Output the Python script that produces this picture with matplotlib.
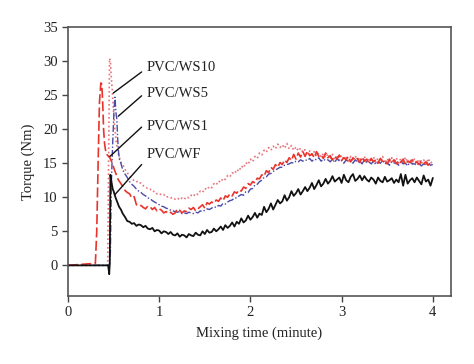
import numpy as np
import matplotlib
matplotlib.use("Agg")
import matplotlib.pyplot as plt

plt.rcParams['font.family'] = ['Liberation Serif', 'DejaVu Serif']

# ---------------- data ----------------
# common sampling grid for the later part of each run (minutes)
TIME_TAIL = np.round(np.arange(0.6, 4.0001, 0.025), 3)

# PVC/WF  (black, solid)
WF_HEAD_T = [0.0, 0.44, 0.452, 0.458, 0.465, 0.472, 0.48, 0.49, 0.50, 0.52, 0.54, 0.56, 0.58]
WF_HEAD_V = [0.0, 0.0, -1.3, 0.5, 13.3, 12.6, 12.0, 11.2, 10.9, 10.0, 9.3, 8.6, 8.2]
WF_TAIL = [
    7.6, 7.1, 6.5, 6.4, 6.1, 6.2, 5.8, 6.0, 5.9, 5.6,
    5.8, 5.4, 5.3, 5.5, 5.0, 5.2, 5.1, 4.7, 5.0, 4.9,
    4.6, 4.9, 4.5, 4.4, 4.7, 4.2, 4.5, 4.4, 4.1, 4.6,
    4.4, 4.3, 4.8, 4.5, 4.4, 5.0, 4.6, 5.2, 4.8, 4.9,
    5.4, 5.0, 5.3, 5.7, 5.2, 5.9, 5.5, 5.8, 6.3, 5.7,
    6.4, 6.1, 6.9, 6.3, 6.6, 7.3, 6.7, 7.1, 7.7, 7.0,
    7.6, 7.4, 8.6, 7.8, 8.3, 9.1, 8.2, 8.9, 9.6, 9.1,
    9.4, 10.3, 9.5, 10.0, 10.9, 10.2, 10.6, 11.2, 10.4, 10.9,
    11.5, 10.9, 11.4, 12.1, 11.2, 11.8, 12.5, 11.6, 12.0, 12.7,
    12.0, 12.4, 13.1, 12.3, 12.6, 12.9, 12.1, 13.3, 12.5, 12.2,
    13.0, 13.4, 12.4, 12.7, 13.2, 12.5, 13.1, 12.6, 12.3, 12.9,
    12.6, 12.0, 12.9, 12.4, 12.2, 13.0, 12.3, 12.5, 12.8, 12.1,
    12.6, 12.2, 13.4, 11.7, 13.3, 12.0, 12.5, 12.8, 12.2, 12.9,
    12.4, 11.9, 13.2, 12.3, 12.6, 11.7, 12.8,
]

# PVC/WS1  (red, dashed)
WS1_HEAD_T = [0.0, 0.30, 0.315, 0.33, 0.345, 0.36, 0.37, 0.38, 0.39, 0.40, 0.41, 0.42,
              0.43, 0.45, 0.47, 0.49, 0.51, 0.53, 0.55, 0.57]
WS1_HEAD_V = [0.0, 0.3, 5.0, 15.0, 24.0, 26.8, 26.6, 24.0, 20.0, 18.0, 17.0, 16.5,
              16.2, 16.0, 15.5, 14.8, 14.0, 13.3, 12.6, 12.2]
WS1_TAIL = [
    11.6, 11.0, 10.7, 10.5, 9.9, 10.1, 8.9, 8.7, 8.8, 8.5,
    8.3, 8.7, 8.6, 8.2, 8.5, 8.0, 8.3, 8.1, 7.7, 7.9,
    7.6, 7.8, 7.5, 7.7, 8.3, 8.1, 7.7, 8.0, 7.9, 8.4,
    8.2, 8.5, 8.0, 8.3, 8.6, 8.9, 8.4, 9.2, 9.0, 9.3,
    9.1, 9.6, 9.4, 9.9, 9.5, 10.2, 10.0, 10.5, 10.2, 10.8,
    10.6, 11.1, 10.9, 11.5, 11.3, 12.0, 11.8, 12.3, 12.1, 12.8,
    12.7, 13.3, 13.1, 13.9, 13.6, 14.4, 14.1, 14.8, 14.4, 15.1,
    14.8, 15.5, 15.1, 15.8, 15.4, 16.3, 15.6, 16.5, 15.9, 16.7,
    16.0, 16.8, 16.1, 16.4, 15.8, 16.7, 16.0, 16.2, 15.7, 16.5,
    15.8, 16.1, 15.5, 16.0, 15.6, 16.2, 15.4, 15.8, 15.5, 16.0,
    15.2, 15.8, 15.4, 15.7, 15.1, 15.9, 15.3, 15.6, 15.0, 15.7,
    15.2, 15.5, 15.0, 15.7, 15.3, 15.4, 14.9, 15.6, 15.1, 15.5,
    14.9, 15.4, 15.1, 15.6, 14.8, 15.3, 15.1, 15.5, 14.9, 15.2,
    14.8, 15.3, 14.9, 15.2, 14.7, 15.1, 15.0,
]

# PVC/WS5  (blue, dash-dot)
WS5_HEAD_T = [0.0, 0.455, 0.465, 0.475, 0.49, 0.505, 0.515, 0.525, 0.535, 0.545, 0.555, 0.565, 0.58]
WS5_HEAD_V = [0.0, 0.0, 2.0, 12.0, 18.0, 23.0, 24.7, 22.5, 21.5, 18.5, 16.5, 15.5, 15.0]
WS5_TAIL = [
    14.0, 13.4, 12.9, 12.3, 11.9, 11.6, 11.2, 10.9, 10.7, 10.4,
    10.2, 9.9, 9.8, 9.5, 9.3, 9.1, 8.9, 8.7, 8.6, 8.4,
    8.3, 8.1, 8.0, 7.9, 7.8, 7.9, 7.6, 7.7, 7.6, 7.8,
    7.7, 7.6, 7.8, 7.7, 8.0, 7.9, 8.1, 8.3, 8.2, 8.4,
    8.6, 8.5, 8.8, 8.7, 9.1, 9.0, 9.3, 9.5, 9.6, 9.9,
    9.9, 10.2, 10.4, 10.3, 10.8, 10.7, 11.2, 11.3, 11.8, 11.9,
    12.3, 12.5, 12.9, 13.0, 13.4, 13.5, 13.8, 14.0, 14.2, 14.4,
    14.4, 14.7, 14.8, 14.9, 15.1, 15.0, 15.3, 15.2, 15.5, 15.3,
    15.5, 15.4, 15.7, 15.3, 15.6, 15.5, 15.8, 15.3, 15.6, 15.4,
    15.5, 15.2, 15.6, 15.1, 15.7, 15.3, 15.4, 15.0, 15.5, 15.2,
    15.3, 15.0, 15.5, 15.1, 15.3, 14.9, 15.5, 15.1, 15.2, 14.9,
    15.3, 14.8, 15.2, 15.0, 15.4, 14.9, 15.1, 14.7, 15.2, 15.0,
    15.1, 14.7, 15.3, 14.9, 15.0, 14.6, 15.2, 14.9, 14.9, 14.7,
    15.0, 14.6, 14.9, 14.8, 15.1, 14.7, 14.8,
]

# PVC/WS10  (pink, dotted)
WS10_HEAD_T = [0.0, 0.435, 0.445, 0.455, 0.465, 0.475, 0.485, 0.495, 0.51, 0.53, 0.55, 0.57, 0.585]
WS10_HEAD_V = [0.0, 0.0, 15.0, 30.4, 30.0, 27.5, 25.8, 23.5, 20.5, 18.0, 16.5, 15.5, 15.0]
WS10_TAIL = [
    14.8, 14.1, 13.6, 13.1, 12.8, 12.4, 12.4, 12.0, 12.1, 11.7,
    11.6, 11.2, 11.2, 10.8, 10.9, 10.5, 10.6, 10.3, 10.4, 10.0,
    10.1, 9.9, 10.0, 9.7, 9.9, 9.6, 9.9, 9.7, 10.1, 9.9,
    10.3, 10.1, 10.6, 10.4, 10.9, 10.7, 11.3, 11.1, 11.6, 11.4,
    12.0, 11.8, 12.4, 12.2, 12.8, 12.6, 13.2, 13.0, 13.6, 13.4,
    14.1, 13.8, 14.6, 14.3, 15.1, 14.8, 15.6, 15.2, 16.0, 15.7,
    16.5, 16.2, 16.9, 16.6, 17.3, 16.9, 17.5, 17.1, 17.8, 17.3,
    17.7, 17.2, 17.9, 17.1, 17.6, 16.9, 17.4, 16.8, 17.2, 16.6,
    17.0, 16.4, 16.8, 16.2, 16.7, 16.0, 16.5, 15.9, 16.4, 15.8,
    16.4, 15.6, 16.3, 15.5, 16.2, 15.4, 16.2, 15.5, 16.1, 15.3,
    16.0, 15.3, 16.1, 15.2, 15.9, 15.3, 16.0, 15.1, 15.8, 15.2,
    15.9, 15.1, 15.8, 15.2, 16.0, 15.0, 15.7, 15.1, 15.8, 15.0,
    15.8, 15.0, 15.7, 14.9, 15.9, 15.1, 15.6, 14.9, 15.7, 15.0,
    15.6, 14.9, 15.5, 14.8, 15.7, 15.0, 15.3,
]

LABELS = ["PVC/WS10", "PVC/WS5", "PVC/WS1", "PVC/WF"]
X_TICKS = [0, 1, 2, 3, 4]
Y_TICKS = [0, 5, 10, 15, 20, 25, 30, 35]

# ---------------- figure ----------------
fig = plt.figure(figsize=(4.74, 3.64), dpi=100)
ax = fig.add_axes([0.1435, 0.1868, 0.808, 0.739])

def series(ht, hv, tail):
    return np.concatenate([ht, TIME_TAIL]), np.concatenate([hv, tail])

t, v = series(WS10_HEAD_T, WS10_HEAD_V, WS10_TAIL)
ax.plot(t, v, color="#e8737c", lw=1.2, ls=(0, (1, 1.6)))
t, v = series(WS5_HEAD_T, WS5_HEAD_V, WS5_TAIL)
ax.plot(t, v, color="#4a4aa8", lw=1.0, ls=(0, (5, 1.5, 1, 1.5)))
t, v = series(WS1_HEAD_T, WS1_HEAD_V, WS1_TAIL)
ax.plot(t, v, color="#e8352c", lw=1.2, ls=(0, (6, 2)))
t, v = series(WF_HEAD_T, WF_HEAD_V, WF_TAIL)
ax.plot(t, v, color="#111111", lw=1.3)

# annotations
text_y = [29.0, 25.3, 20.4, 16.3]
line_start_y = [28.4, 24.9, 20.3, 14.8]
line_end = [(0.496, 25.3), (0.551, 21.9), (0.46, 16.0), (0.515, 10.4)]
for lab, ty, sy, end in zip(LABELS, text_y, line_start_y, line_end):
    ax.annotate("", xy=end, xytext=(0.807, sy),
                arrowprops=dict(arrowstyle="-", color="#111111", lw=1.0,
                                shrinkA=0, shrinkB=0))
    ax.text(0.865, ty, lab, ha="left", va="center", fontsize=10.5, color="#222222")

ax.set_xlim(0, 4.2)
ax.set_ylim(-4.5, 35)
ax.set_xticks(X_TICKS)
ax.set_yticks(Y_TICKS)
ax.tick_params(direction="out", length=4, width=1.0, color="#444444",
               labelsize=10.5, labelcolor="#222222", top=False, right=False)
for sp in ax.spines.values():
    sp.set_color("#555555")
    sp.set_linewidth(1.2)

ax.set_xlabel("Mixing time (minute)", fontsize=10.5, color="#222222", labelpad=5)
ax.set_ylabel("Torque (Nm)", fontsize=10.5, color="#222222", labelpad=6)

fig.savefig("out.png", dpi=100)
